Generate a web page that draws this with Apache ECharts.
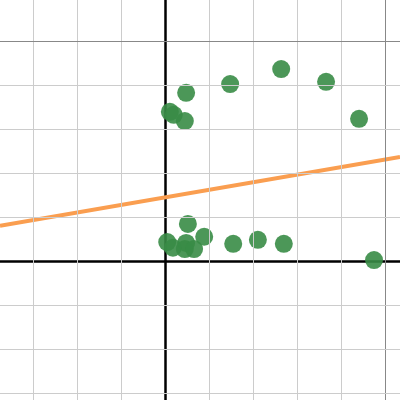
<!DOCTYPE html><html><head><script src="https://cdn.jsdelivr.net/npm/echarts@6/dist/echarts.min.js"></script></head><body style="margin:0"><div id="c" style="width:400px;height:400px"></div><script>
var pointsX=[0.11,0.2,0.48,0.45,1.48,2.64,3.66,4.41,0.52,0.05,0.18,0.48,0.45,0.66,0.89,1.55,2.11,2.7,4.75];
var pointsY=[3.39,3.32,3.82,3.18,4.02,4.36,4.07,3.23,0.84,0.43,0.3,0.41,0.27,0.27,0.55,0.39,0.48,0.39,0.02];
var lineX=[-3.75,5.34];
var lineY=[0.8,2.36];
var gridX=[-3,-2,-1,1,2,3,4,5];
var gridY=[-3,-2,-1,1,2,3,4,5];
var c=echarts.init(document.getElementById('c'));
var ax={type:'value',axisLabel:{show:false},axisTick:{show:false},
 axisLine:{onZero:true,lineStyle:{color:'#000',width:2.5}},splitLine:{show:false}};
var gl=[];
gridX.forEach(function(v){gl.push({xAxis:v,lineStyle:{color:v===5?'#888':'#ccc'}});});
gridY.forEach(function(v){gl.push({yAxis:v,lineStyle:{color:v===5?'#888':'#ccc'}});});
c.setOption({animation:false,
 grid:{left:0,right:0,top:0,bottom:0},
 xAxis:Object.assign({min:-3.75,max:5.34},ax),
 yAxis:Object.assign({min:-3.16,max:5.93},ax),
 series:[
 {type:'line',data:[],markLine:{silent:true,symbol:'none',label:{show:false},lineStyle:{width:1,type:'solid'},data:gl},z:1},
 {type:'line',data:lineX.map(function(x,i){return [x,lineY[i]];}),symbol:'none',
  lineStyle:{color:'#fa9e50',width:4},z:3},
 {type:'scatter',data:pointsX.map(function(x,i){return [x,pointsY[i]];}),symbolSize:18,
  itemStyle:{color:'#388c46',opacity:0.9},z:4}
 ]});
</script></body></html>
